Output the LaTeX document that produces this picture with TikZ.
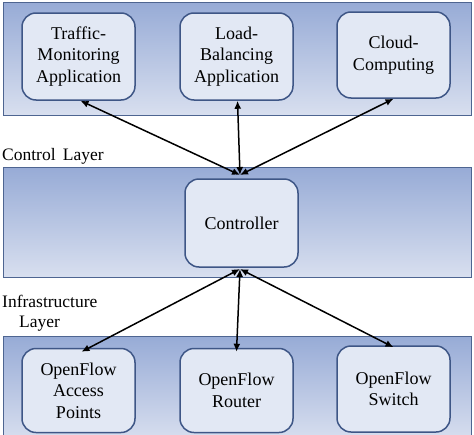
\documentclass[tikz,border=0pt]{standalone}
\usepackage{fontspec}
\setmainfont{Liberation Serif}
\usetikzlibrary{arrows.meta}
\definecolor{laytop}{HTML}{97ABD6}
\definecolor{laybot}{HTML}{D8DFEF}
\definecolor{layedge}{HTML}{4E6591}
\definecolor{boxfill}{HTML}{E2E8F4}
\definecolor{boxedge}{HTML}{3E5686}
\tikzset{
  layer/.style={draw=layedge, line width=1pt, top color=laytop, bottom color=laybot},
  appbox/.style={draw=boxedge, line width=1.5pt, fill=boxfill, rounded corners=14pt,
    minimum width=113pt, align=center, font=\fontsize{18}{21.5}\selectfont, inner sep=0pt},
  lbl/.style={font=\fontsize{17.5}{20}\selectfont, inner sep=0pt, align=left},
  link/.style={line width=1.5pt, {Latex[length=8pt,width=7pt]}-{Latex[length=8pt,width=7pt]}}
}
\begin{document}
\begin{tikzpicture}[x=1pt,y=-1pt]
\useasboundingbox (0,0) rectangle (474,434);
% layers
\path[layer] (3,2) rectangle (471,115);
\path[layer] (3,167) rectangle (471,277);
\path[layer] (3,336) rectangle (471,440);
% labels
\node[lbl, anchor=west] (ctllbl) at (2,156) {Control\, Layer};
\node[lbl, anchor=north west] (inflbl) at (2,295) {Infrastructure\\\hspace*{17pt}Layer};
% application boxes
\node[appbox, minimum height=87pt] (app1) at (78.5,56.5) {Traffic-\\Monitoring\\Application};
\node[appbox, minimum height=87pt] (app2) at (236.5,56.5) {Load-\\Balancing\\Application};
\node[appbox, minimum height=86pt] (app3) at (393.5,55) {Cloud-\\Computing};
% controller
\node[appbox, minimum height=88pt] (ctl) at (241.5,223) {Controller};
% infrastructure boxes
\node[appbox, minimum height=84pt] (of1) at (78.5,390.5) {OpenFlow\\Access\\Points};
\node[appbox, minimum height=84pt] (of2) at (236.5,390.5) {OpenFlow\\Router};
\node[appbox, minimum height=86pt] (of3) at (393.5,389) {OpenFlow\\Switch};
% connection points
\coordinate (ct) at (240,175);
\coordinate (cb) at (240,269);
\draw[link] (ct) -- ([xshift=2pt]app1.south);
\draw[link] (ct) -- ([xshift=1pt]app2.south);
\draw[link] (ct) -- (app3.south);
\draw[link] (cb) -- ([xshift=3pt,yshift=-4pt]of1.north);
\draw[link] (cb) -- ([yshift=-4pt]of2.north);
\draw[link] (cb) -- ([yshift=-2pt]of3.north);
\end{tikzpicture}
\end{document}
